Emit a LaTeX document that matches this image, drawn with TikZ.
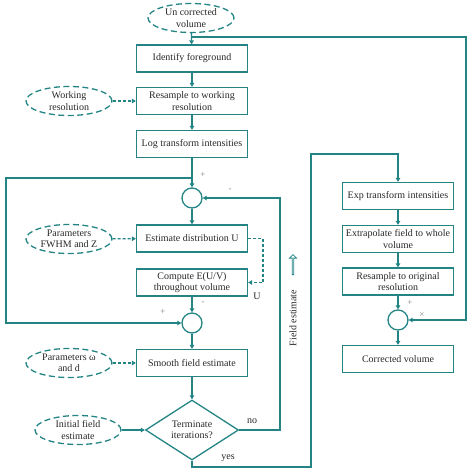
\documentclass[tikz,border=0pt]{standalone}
\usepackage{fontspec}
\setmainfont{Liberation Serif}
\usetikzlibrary{shapes.geometric,shapes.arrows,arrows.meta}
\definecolor{flow}{RGB}{36,132,132}
\definecolor{ink}{RGB}{40,40,40}
\newcommand{\bw}{111pt}
\newcommand{\txt}{\fontsize{10}{11.5}\selectfont}

\begin{document}
\begin{tikzpicture}[x=1pt,y=-1pt,
    rect/.style={draw=flow, rectangle, line width=1.3pt, minimum width=\bw, minimum height=27pt, inner sep=1pt, align=center, text=ink, font=\txt},
    oval/.style={draw=flow, ellipse, dash pattern=on 6pt off 3.5pt, line width=1.3pt, minimum width=86pt, minimum height=29pt, inner sep=0pt, align=center, text=ink, font=\txt},
    sum/.style={draw=flow, circle, line width=1.3pt, minimum size=20pt, inner sep=0pt},
    decide/.style={draw=flow, diamond, line width=1.3pt, minimum width=93pt, minimum height=60pt, aspect=1.55, inner sep=0pt, align=center, text=ink, font=\txt},
    sign/.style={inner sep=0pt, text=gray, font=\fontsize{9}{10}\selectfont},
    note/.style={inner sep=0pt, text=ink, font=\txt},
    link/.style={draw=flow, line width=1.3pt, -{Triangle[length=4pt,width=4.5pt]}},
    hint/.style={link, dash pattern=on 3pt off 2pt}]
    \useasboundingbox (0,0) rectangle (474,474);

    % Main column
    \node[oval] (uncorr) at (191,18) {Un corrected\\volume};
    \node[rect] (ident) at (192,58.5) {Identify foreground};
    \node[rect] (resw) at (192,101) {Resample to working\\resolution};
    \node[rect] (logt) at (192,144) {Log transform intensities};
    \node[sum] (sum1) at (192,198) {};
    \node[rect] (estu) at (192,238.5) {Estimate distribution U};
    \node[rect] (compe) at (192,282.5) {Compute E(U/V)\\throughout volume};
    \node[sum] (sum2) at (192,323) {};
    \node[rect] (smooth) at (192,363) {Smooth field estimate};
    \node[decide] (term) at (192,430) {Terminate\\iterations?};

    % Inputs on the left
    \node[oval] (workres) at (69,101) {Working\\resolution};
    \node[oval] (fwhm) at (69,239) {Parameters\\FWHM and Z};
    \node[oval] (param) at (69,363) {Parameters ω\\and d};
    \node[oval] (init) at (78,430) {Initial field\\estimate};

    % Right column
    \node[rect] (expt) at (398,196) {Exp transform intensities};
    \node[rect] (extra) at (398,239) {Extrapolate field to whole\\volume};
    \node[rect] (reso) at (398,281.5) {Resample to original\\resolution};
    \node[sum] (sum3) at (398,320) {};
    \node[rect] (corr) at (398,359) {Corrected volume};

    % Corners
    \coordinate (split) at (192,37);
    \coordinate (topright) at (466,37);
    \coordinate (tap) at (192,178);
    \coordinate (leftline) at (6,178);
    \coordinate (uside) at (263,260);
    \coordinate (nocorner) at (280,430);
    \coordinate (yesright) at (311,467);
    \coordinate (yestop) at (311,154);

    % Field estimate marker
    \node[draw=flow, single arrow, rotate=90, line width=0.8pt, minimum height=20pt, minimum width=7pt, single arrow head extend=1.5pt, single arrow head indent=0pt, inner sep=0pt] (fieldarrow) at (293,265) {};
    \node[note, rotate=90] (fieldtxt) at (293,318) {Field estimate};

    % Connectors
    \draw[link] (uncorr) -- (ident);
    \draw[link] (split) -- (topright) |- (sum3);
    \draw[link] (ident) -- (resw);
    \draw[hint] (workres) -- (resw);
    \draw[link] (resw) -- (logt);
    \draw[link] (logt) -- (sum1);
    \draw[link] (tap) -- (leftline) |- (sum2);
    \draw[link] (sum1) -- (estu);
    \draw[hint] (fwhm) -- (estu);
    \draw[hint] (estu.east) -| (uside) |- (compe.east);
    \draw[link] (compe) -- (sum2);
    \draw[link] (sum2) -- (smooth);
    \draw[hint] (param) -- (smooth);
    \draw[link] (smooth) -- (term);
    \draw[link] (init) -- (term.west);
    \draw[link] (term.east) -- (nocorner) |- (sum1);
    \draw[link] (term.south) |- (yesright) -- (yestop) -| (expt);
    \draw[link] (expt) -- (extra);
    \draw[link] (extra) -- (reso);
    \draw[link] (reso) -- (sum3);
    \draw[link] (sum3) -- (corr);

    % Labels
    \node[sign] (plus1) at (203,175) {+};
    \node[sign] (minus1) at (230,190) {-};
    \node[note] (ulabel) at (257,296) {U};
    \node[sign] (minus2) at (203,303) {-};
    \node[sign] (plus2) at (163,312) {+};
    \node[note] (nolabel) at (252,421) {no};
    \node[note] (yeslabel) at (228,458) {yes};
    \node[sign] (plus3) at (410,303) {+};
    \node[sign] (times3) at (422,315) {×};

\end{tikzpicture}
\end{document}
